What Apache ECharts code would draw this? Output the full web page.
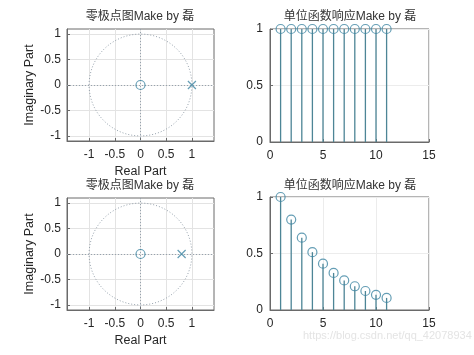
<!DOCTYPE html>
<html><head><meta charset="utf-8">
<script src="https://cdn.jsdelivr.net/npm/echarts@6/dist/echarts.min.js"></script>
<style>html,body{margin:0;padding:0;background:#fff}#c{width:474px;height:355px}</style>
</head><body><div id="c"></div>
<script>
// ---- data ----
var zerosTop = [[0, 0]];
var polesTop = [[1, 0]];
var zerosBottom = [[0, 0]];
var polesBottom = [[0.8, 0]];
var unitCircle = [[0, 0, 1]];
var stemN = [1, 2, 3, 4, 5, 6, 7, 8, 9, 10, 11];
var stepResp = [1, 1, 1, 1, 1, 1, 1, 1, 1, 1, 1];
var decayResp = [1, 0.8, 0.64, 0.512, 0.41, 0.328, 0.262, 0.21, 0.168, 0.134, 0.107];
var pzXTicks = [-1, -0.5, 0, 0.5, 1];
var pzYTicks = [-1, -0.5, 0, 0.5, 1];
var titlePZ = '零极点图Make by 磊';
var titleImp = '单位函数响应Make by 磊';

var blue = '#3f86a3';
var stemColor = '#4d8596';
var font = '"Liberation Sans", Arial, sans-serif';
var cjk = '"Liberation Sans","Noto Sans CJK SC", sans-serif';

var grids = [
  {left: 67, top: 29, width: 147, height: 112},
  {left: 270, top: 29, width: 159, height: 113},
  {left: 67, top: 198, width: 147, height: 112},
  {left: 270, top: 197, width: 159, height: 113}
].map(function (g) { return Object.assign({show: true, borderColor: '#6a6a6a', borderWidth: 1, containLabel: false}, g); });

function pzX(i) {
  return {gridIndex: i, type: 'value', min: -1.43, max: 1.43,
    name: 'Real Part', nameLocation: 'middle', nameGap: 24,
    nameTextStyle: {fontFamily: font, fontSize: 12.5, color: '#262626'},
    axisLine: {show: true, onZero: false, lineStyle: {color: '#6a6a6a'}},
    axisTick: {show: true, inside: true, length: 3, customValues: pzXTicks, lineStyle: {color: '#6a6a6a'}},
    axisLabel: {customValues: pzXTicks, fontFamily: font, fontSize: 12, color: '#262626', margin: 8,
      formatter: function (v) { return String(v); }},
    splitLine: {show: true, lineStyle: {color: '#e3e3e3', width: 1}}};
}
function pzY(i) {
  return {gridIndex: i, type: 'value', min: -1.1, max: 1.1,
    name: 'Imaginary Part', nameLocation: 'middle', nameGap: 31,
    nameTextStyle: {fontFamily: font, fontSize: 12.5, color: '#262626'},
    axisLine: {show: true, onZero: false, lineStyle: {color: '#6a6a6a'}},
    axisTick: {show: true, inside: true, length: 3, customValues: pzYTicks, lineStyle: {color: '#6a6a6a'}},
    axisLabel: {customValues: pzYTicks, fontFamily: font, fontSize: 12, color: '#262626', margin: 6,
      formatter: function (v) { return String(v); }},
    splitLine: {show: true, lineStyle: {color: '#e3e3e3', width: 1}}};
}
function stX(i) {
  return {gridIndex: i, type: 'value', min: 0, max: 15, interval: 5,
    axisLine: {show: true, onZero: false, lineStyle: {color: '#6a6a6a'}},
    axisTick: {show: true, inside: true, length: 3, lineStyle: {color: '#6a6a6a'}},
    axisLabel: {fontFamily: font, fontSize: 12, color: '#262626', margin: 8},
    splitLine: {show: true, lineStyle: {color: '#ececec'}}};
}
function stY(i) {
  return {gridIndex: i, type: 'value', min: 0, max: 1, interval: 0.5,
    axisLine: {show: true, onZero: false, lineStyle: {color: '#6a6a6a'}},
    axisTick: {show: true, inside: true, length: 3, lineStyle: {color: '#6a6a6a'}},
    axisLabel: {fontFamily: font, fontSize: 12, color: '#262626', margin: 7},
    splitLine: {show: true, lineStyle: {color: '#ececec'}}};
}

var xSymbol = 'path://M0,0L10,10M10,0L0,10';

function circleSeries(idx) {
  return {type: 'custom', xAxisIndex: idx, yAxisIndex: idx, data: unitCircle, silent: true, clip: false,
    renderItem: function (params, api) {
      var c = api.coord([api.value(0), api.value(1)]);
      var s = api.size([api.value(2), api.value(2)]);
      return {type: 'ellipse', shape: {cx: c[0], cy: c[1], rx: s[0], ry: s[1]},
        style: {fill: null, stroke: '#96a2ad', lineWidth: 1, lineDash: [1, 2]}};
    }};
}
function axesDotted(idx) {
  return {type: 'scatter', xAxisIndex: idx, yAxisIndex: idx, data: [], silent: true,
    markLine: {symbol: 'none', silent: true, label: {show: false},
      lineStyle: {color: '#96a2ad', type: [1, 2], width: 1},
      data: [{xAxis: 0}, {yAxis: 0}]}};
}
function zerosS(idx, d) {
  return {type: 'scatter', xAxisIndex: idx, yAxisIndex: idx, data: d, symbol: 'circle', symbolSize: 9,
    itemStyle: {color: 'rgba(0,0,0,0)', borderColor: blue, borderWidth: 1.2}, z: 5};
}
function polesS(idx, d) {
  return {type: 'scatter', xAxisIndex: idx, yAxisIndex: idx, data: d, symbol: xSymbol, symbolSize: 8,
    itemStyle: {color: 'rgba(0,0,0,0)', borderColor: blue, borderWidth: 1.2}, z: 5};
}
function stems(idx, vals) {
  var pts = stemN.map(function (n, i) { return [n, vals[i]]; });
  return [
    {type: 'bar', xAxisIndex: idx, yAxisIndex: idx, data: pts, barWidth: 1.3,
      itemStyle: {color: stemColor}},
    {type: 'scatter', xAxisIndex: idx, yAxisIndex: idx, data: pts, symbol: 'circle', symbolSize: 9, clip: false,
      itemStyle: {color: 'rgba(0,0,0,0)', borderColor: blue, borderWidth: 1.2}, z: 5}
  ];
}

var titleStyle = {fontFamily: cjk, fontSize: 12, color: '#333', fontWeight: 'normal'};
var option = {
  animation: false,
  backgroundColor: '#fff',
  title: [
    {text: titlePZ, left: 140, top: 11, textAlign: 'center', textStyle: titleStyle, padding: 0},
    {text: titleImp, left: 350, top: 11, textAlign: 'center', textStyle: titleStyle, padding: 0},
    {text: titlePZ, left: 140, top: 180, textAlign: 'center', textStyle: titleStyle, padding: 0},
    {text: titleImp, left: 350, top: 180, textAlign: 'center', textStyle: titleStyle, padding: 0}
  ],
  grid: grids,
  xAxis: [pzX(0), stX(1), pzX(2), stX(3)],
  yAxis: [pzY(0), stY(1), pzY(2), stY(3)],
  graphic: [{type: 'text', left: 303, top: 330, silent: true,
    style: {text: 'https://blog.csdn.net/qq_42078934', fill: '#e4e4e4', font: '11px ' + font}}],
  series: [].concat(
    [circleSeries(0), axesDotted(0), zerosS(0, zerosTop), polesS(0, polesTop)],
    stems(1, stepResp),
    [circleSeries(2), axesDotted(2), zerosS(2, zerosBottom), polesS(2, polesBottom)],
    stems(3, decayResp)
  )
};
var chart = echarts.init(document.getElementById('c'), null, {renderer: 'canvas'});
chart.setOption(option);
</script></body></html>
